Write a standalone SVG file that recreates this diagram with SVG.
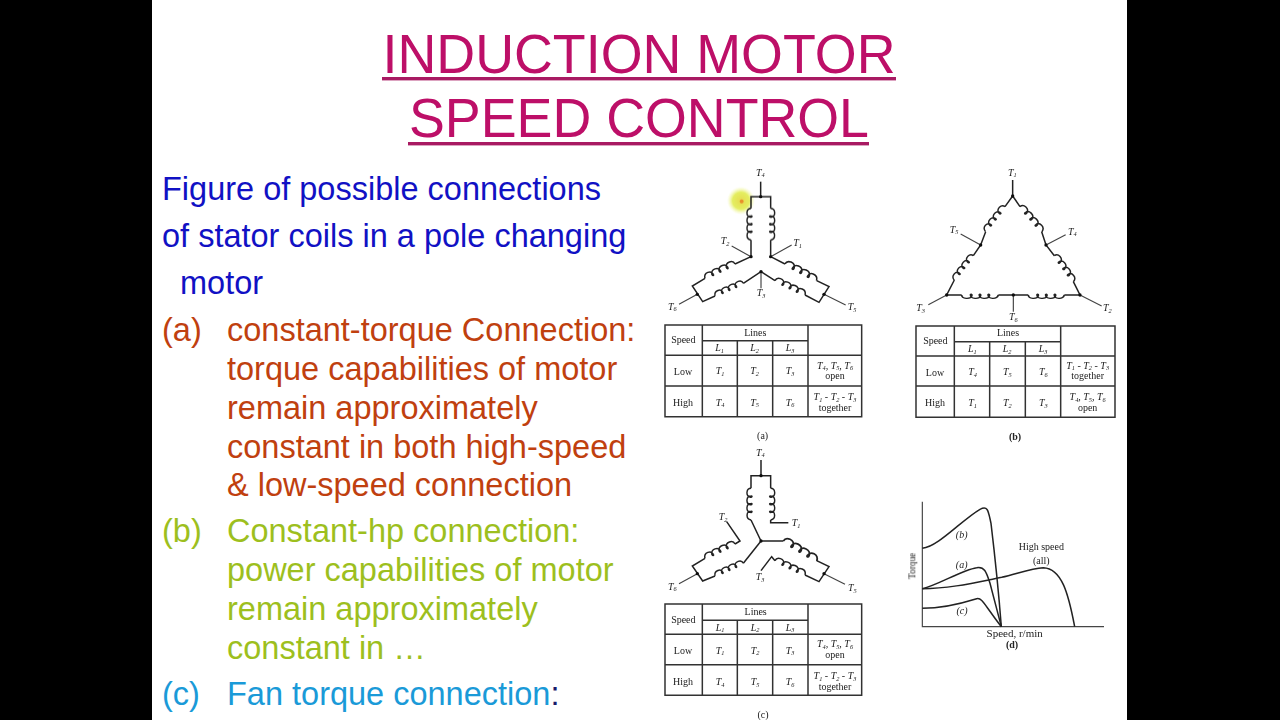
<svg xmlns="http://www.w3.org/2000/svg" xmlns:xlink="http://www.w3.org/1999/xlink" width="1280" height="720" viewBox="0 0 1280 720">
<style>
text{font-family:"Liberation Sans",Arial,sans-serif}
.title{font-size:56px;fill:#bd0f68;text-anchor:middle}
.ul{fill:#a81a62}
.b{font-size:32.5px}
.blue{fill:#1111c4}.or{fill:#c0400f}.lime{fill:#9dbf1e}.cy{fill:#1a9ad8}
.fig path,.fig line{fill:none;stroke:#222;stroke-width:4.5}
.coil{fill:none;stroke:#222;stroke-width:4.5}
.fig .thin{stroke-width:3.5;stroke:#444}
.fig circle{fill:#111}
.fig text{font-family:"Liberation Serif",serif;fill:#222;font-size:30px;text-anchor:middle}
.fig .t{font-style:italic}
.fig .tb{fill:none;stroke:#333;stroke-width:4.5}
.fig tspan.s{font-size:19px}
</style>
<defs>
<filter id="soft" x="-5%" y="-5%" width="110%" height="110%"><feGaussianBlur stdDeviation="2"/></filter>
<radialGradient id="glow"><stop offset="0" stop-color="#e6dc50"/><stop offset=".6" stop-color="#e4ee60"/><stop offset="1" stop-color="#f4f8b0" stop-opacity="0"/></radialGradient>
<path id="coil" class="coil" d="M0 0c0-15 24-18 28-2c1 6-5 7-4 2c0-15 24-18 28-2c1 6-5 7-4 2c0-15 24-18 28-2c1 6-5 7-4 2c0-15 24-18 28 0"/>
</defs>
<rect width="1280" height="720" fill="#000"/>
<rect x="152" width="975" height="720" fill="#fff"/>
<g id="title">
<text class="title" x="639" y="73" textLength="513" lengthAdjust="spacingAndGlyphs">INDUCTION MOTOR</text>
<rect class="ul" x="382" y="77" width="514" height="3.4"/>
<text class="title" x="639" y="137" textLength="460" lengthAdjust="spacingAndGlyphs">SPEED CONTROL</text>
<rect class="ul" x="408" y="142" width="461" height="3.4"/>
</g>
<g id="body">
<text class="b blue" x="162" y="200">Figure of possible connections</text>
<text class="b blue" x="162" y="247">of stator coils in a pole changing</text>
<text class="b blue" x="180" y="294">motor</text>
<text class="b or" x="162" y="341">(a)</text>
<text class="b or" x="227" y="341">constant-torque Connection:</text>
<text class="b or" x="227" y="380">torque capabilities of motor</text>
<text class="b or" x="227" y="419">remain approximately</text>
<text class="b or" x="227" y="458">constant in both high-speed</text>
<text class="b or" x="227" y="496">&amp; low-speed connection</text>
<text class="b lime" x="162" y="542">(b)</text>
<text class="b lime" x="227" y="542">Constant-hp connection:</text>
<text class="b lime" x="227" y="581">power capabilities of motor</text>
<text class="b lime" x="227" y="620">remain approximately</text>
<text class="b lime" x="227" y="659">constant in …</text>
<text class="b cy" x="162" y="705">(c)</text>
<text class="b cy" x="227" y="705">Fan torque connection<tspan fill="#1a1a6a">:</tspan></text>
</g>

<g id="figure-a" class="fig" filter="url(#soft)" transform="translate(655 160) scale(.33333)">
<circle cx="258" cy="122" r="42" style="fill:url(#glow)"/>
<circle cx="260" cy="124" r="6" style="fill:#e8902a"/>
<path d="M317 65V110M288 145V110H347V145M288 240V290M347 240V290"/>
<use xlink:href="#coil" transform="translate(288 145) rotate(90) scale(.95) scale(1 -1)"/>
<use xlink:href="#coil" transform="translate(347 145) rotate(90) scale(.95)"/>
<path d="M288 290L240 312M150 355L112 378L143 425L180 408M265 370L318 335L360 362M347 290L390 312M485 362L522 380L492 427L450 405"/>
<path class="thin" d="M288 290L230 258M347 290L410 255M318 335V385M127 403L72 433M507 403L572 435"/>
<use xlink:href="#coil" transform="translate(240 312) rotate(154.5) scale(1) scale(1 -1)"/>
<use xlink:href="#coil" transform="translate(265 370) rotate(156) scale(.93) scale(1 -1)"/>
<use xlink:href="#coil" transform="translate(390 312) rotate(27.8) scale(1.07)"/>
<use xlink:href="#coil" transform="translate(360 362) rotate(25.5) scale(1)"/>
<circle cx="317" cy="110" r="5"/><circle cx="288" cy="290" r="5"/><circle cx="347" cy="290" r="5"/><circle cx="318" cy="335" r="5"/><circle cx="127" cy="403" r="5"/><circle cx="507" cy="403" r="5"/>
<text class="t" x="316" y="47">T<tspan class="s" dy="5">4</tspan></text>
<text class="t" x="210" y="253">T<tspan class="s" dy="5">2</tspan></text>
<text class="t" x="428" y="258">T<tspan class="s" dy="5">1</tspan></text>
<text class="t" x="318" y="408">T<tspan class="s" dy="5">3</tspan></text>
<text class="t" x="52" y="449">T<tspan class="s" dy="5">6</tspan></text>
<text class="t" x="591" y="451">T<tspan class="s" dy="5">5</tspan></text>
</g>

<g id="figure-b" class="fig" filter="url(#soft)" transform="translate(905 160) scale(.33333)">
<path d="M323 60V108L345 140M410 215L423 255L448 287M505 365L525 405L478 405M370 405H280M170 405H125L148 360M242 215L227 255L205 287M300 140L323 108"/>
<path class="thin" d="M227 255L167 222M423 255L482 224M125 405L70 434M525 405L590 438M325 405V455"/>
<use xlink:href="#coil" transform="translate(345 140) rotate(49)"/>
<use xlink:href="#coil" transform="translate(448 287) rotate(54) scale(.97)"/>
<use xlink:href="#coil" transform="translate(300 140) rotate(128) scale(.95) scale(1 -1)"/>
<use xlink:href="#coil" transform="translate(205 287) rotate(128) scale(.93) scale(1 -1)"/>
<use xlink:href="#coil" transform="translate(170 405) scale(1.1 .8) scale(1 -1)"/>
<use xlink:href="#coil" transform="translate(370 405) scale(1.08 .8) scale(1 -1)"/>
<circle cx="323" cy="108" r="5"/><circle cx="227" cy="255" r="5"/><circle cx="423" cy="255" r="5"/><circle cx="125" cy="405" r="5"/><circle cx="525" cy="405" r="5"/><circle cx="325" cy="405" r="5"/>
<text class="t" x="322" y="47">T<tspan class="s" dy="5">1</tspan></text>
<text class="t" x="147" y="218">T<tspan class="s" dy="5">5</tspan></text>
<text class="t" x="502" y="224">T<tspan class="s" dy="5">4</tspan></text>
<text class="t" x="47" y="453">T<tspan class="s" dy="5">3</tspan></text>
<text class="t" x="607" y="454">T<tspan class="s" dy="5">2</tspan></text>
<text class="t" x="325" y="480">T<tspan class="s" dy="5">6</tspan></text>
</g>

<g id="figure-c" class="fig" filter="url(#soft)" transform="translate(655 440) scale(.33333)">
<path d="M318 60V107M288 145V107H347V145M347 240V248H400M288 240L318 303L385 303M318 303L265 370M180 408L143 423L112 378L150 355M240 312L255 303L215 245M450 405L492 425L522 380L485 362M360 362L350 350L318 392"/>
<path class="thin" d="M127 401L72 431M507 401L570 433"/>
<use xlink:href="#coil" transform="translate(288 145) rotate(90) scale(.95) scale(1 -1)"/>
<use xlink:href="#coil" transform="translate(347 145) rotate(90) scale(.95)"/>
<use xlink:href="#coil" transform="translate(240 312) rotate(154.5) scale(1) scale(1 -1)"/>
<use xlink:href="#coil" transform="translate(265 370) rotate(156) scale(.93) scale(1 -1)"/>
<use xlink:href="#coil" transform="translate(385 303) rotate(31) scale(1.17)"/>
<use xlink:href="#coil" transform="translate(360 362) rotate(25.5) scale(1)"/>
<circle cx="318" cy="107" r="5"/><circle cx="318" cy="303" r="5"/><circle cx="127" cy="401" r="5"/><circle cx="507" cy="401" r="5"/>
<text class="t" x="316" y="47">T<tspan class="s" dy="5">4</tspan></text>
<text class="t" x="204" y="240">T<tspan class="s" dy="5">2</tspan></text>
<text class="t" x="423" y="258">T<tspan class="s" dy="5">1</tspan></text>
<text class="t" x="315" y="421">T<tspan class="s" dy="5">3</tspan></text>
<text class="t" x="52" y="449">T<tspan class="s" dy="5">6</tspan></text>
<text class="t" x="592" y="453">T<tspan class="s" dy="5">5</tspan></text>
</g>

<g id="table-a" class="fig" filter="url(#soft)" transform="translate(655 320) scale(.33333)">
<path class="tb" d="M30 15H620V290H30ZM142 15V290M459 15V290M142 62H459M247 62V290M353 62V290M30 106H620M30 198H620"/>
<text x="85" y="70">Speed</text><text x="301" y="47">Lines</text>
<text class="t" x="194" y="94">L<tspan class="s" dy="5">1</tspan></text><text class="t" x="299" y="94">L<tspan class="s" dy="5">2</tspan></text><text class="t" x="405" y="94">L<tspan class="s" dy="5">3</tspan></text>
<text x="84" y="165">Low</text><text x="84" y="257">High</text>
<text class="t" x="195" y="163">T<tspan class="s" dy="5">1</tspan></text><text class="t" x="299" y="163">T<tspan class="s" dy="5">2</tspan></text><text class="t" x="405" y="163">T<tspan class="s" dy="5">3</tspan></text>
<text class="t" x="195" y="257">T<tspan class="s" dy="5">4</tspan></text><text class="t" x="299" y="257">T<tspan class="s" dy="5">5</tspan></text><text class="t" x="405" y="257">T<tspan class="s" dy="5">6</tspan></text>
<text class="t" x="540" y="146">T<tspan class="s" dy="5">4</tspan><tspan dy="-5">, T</tspan><tspan class="s" dy="5">5</tspan><tspan dy="-5">, T</tspan><tspan class="s" dy="5">6</tspan></text><text x="540" y="177">open</text>
<text class="t" x="540" y="241">T<tspan class="s" dy="5">1</tspan><tspan dy="-5"> - T</tspan><tspan class="s" dy="5">2</tspan><tspan dy="-5"> - T</tspan><tspan class="s" dy="5">3</tspan></text><text x="540" y="273">together</text>
<text x="323" y="358">(a)</text>
</g>

<g id="table-b" class="fig" filter="url(#soft)" transform="translate(905 320) scale(.33333)">
<path class="tb" d="M33 18H630V292H33ZM148 18V292M467 18V292M148 65H467M254 65V292M361 65V292M33 108H630M33 198H630"/>
<text x="91" y="72">Speed</text><text x="309" y="49">Lines</text>
<text class="t" x="202" y="96">L<tspan class="s" dy="5">1</tspan></text><text class="t" x="306" y="96">L<tspan class="s" dy="5">2</tspan></text><text class="t" x="414" y="96">L<tspan class="s" dy="5">3</tspan></text>
<text x="90" y="167">Low</text><text x="90" y="259">High</text>
<text class="t" x="203" y="166">T<tspan class="s" dy="5">4</tspan></text><text class="t" x="307" y="166">T<tspan class="s" dy="5">5</tspan></text><text class="t" x="415" y="166">T<tspan class="s" dy="5">6</tspan></text>
<text class="t" x="203" y="259">T<tspan class="s" dy="5">1</tspan></text><text class="t" x="307" y="259">T<tspan class="s" dy="5">2</tspan></text><text class="t" x="415" y="259">T<tspan class="s" dy="5">3</tspan></text>
<text class="t" x="548" y="146">T<tspan class="s" dy="5">1</tspan><tspan dy="-5"> - T</tspan><tspan class="s" dy="5">2</tspan><tspan dy="-5"> - T</tspan><tspan class="s" dy="5">3</tspan></text><text x="548" y="178">together</text>
<text class="t" x="548" y="240">T<tspan class="s" dy="5">4</tspan><tspan dy="-5">, T</tspan><tspan class="s" dy="5">5</tspan><tspan dy="-5">, T</tspan><tspan class="s" dy="5">6</tspan></text><text x="548" y="272">open</text>
<text x="330" y="359" font-weight="bold">(b)</text>
</g>

<g id="table-c" class="fig" filter="url(#soft)" transform="translate(655 598) scale(.33333)">
<path class="tb" d="M30 18H620V292H30ZM142 18V292M459 18V292M142 67H459M247 67V292M353 67V292M30 109H620M30 200H620"/>
<text x="85" y="74">Speed</text><text x="302" y="51">Lines</text>
<text class="t" x="195" y="98">L<tspan class="s" dy="5">1</tspan></text><text class="t" x="300" y="98">L<tspan class="s" dy="5">2</tspan></text><text class="t" x="405" y="98">L<tspan class="s" dy="5">3</tspan></text>
<text x="84" y="169">Low</text><text x="84" y="261">High</text>
<text class="t" x="195" y="167">T<tspan class="s" dy="5">1</tspan></text><text class="t" x="300" y="167">T<tspan class="s" dy="5">2</tspan></text><text class="t" x="405" y="167">T<tspan class="s" dy="5">3</tspan></text>
<text class="t" x="195" y="261">T<tspan class="s" dy="5">4</tspan></text><text class="t" x="300" y="261">T<tspan class="s" dy="5">5</tspan></text><text class="t" x="405" y="261">T<tspan class="s" dy="5">6</tspan></text>
<text class="t" x="540" y="148">T<tspan class="s" dy="5">4</tspan><tspan dy="-5">, T</tspan><tspan class="s" dy="5">5</tspan><tspan dy="-5">, T</tspan><tspan class="s" dy="5">6</tspan></text><text x="540" y="181">open</text>
<text class="t" x="540" y="243">T<tspan class="s" dy="5">1</tspan><tspan dy="-5"> - T</tspan><tspan class="s" dy="5">2</tspan><tspan dy="-5"> - T</tspan><tspan class="s" dy="5">3</tspan></text><text x="540" y="277">together</text>
<text x="324" y="361">(c)</text>
</g>

<g id="graph-d" class="fig" filter="url(#soft)" transform="translate(905 490) scale(.33333)">
<path class="thin" d="M52 35V410H597"/>
<path d="M52 175C100 170 170 90 225 58C250 45 250 65 258 100C270 200 282 320 289 410"/>
<path d="M52 296C100 285 170 240 215 233C240 228 245 250 255 280L289 410"/>
<path d="M52 355C110 355 170 340 215 326C232 322 238 345 289 410"/>
<path d="M52 296C130 296 200 280 290 262C340 250 380 235 415 233C470 235 490 310 509 410"/>
<text class="t" x="170" y="145">(b)</text><text class="t" x="170" y="235">(a)</text><text class="t" x="171" y="373">(c)</text>
<text x="409" y="179">High speed</text><text x="409" y="221">(all)</text>
<text transform="translate(32 228) rotate(-90)" style="font-size:28px">Torque</text>
<text x="329" y="442" style="font-size:33px">Speed, r/min</text>
<text x="321" y="475" font-weight="bold">(d)</text>
</g>
</svg>
